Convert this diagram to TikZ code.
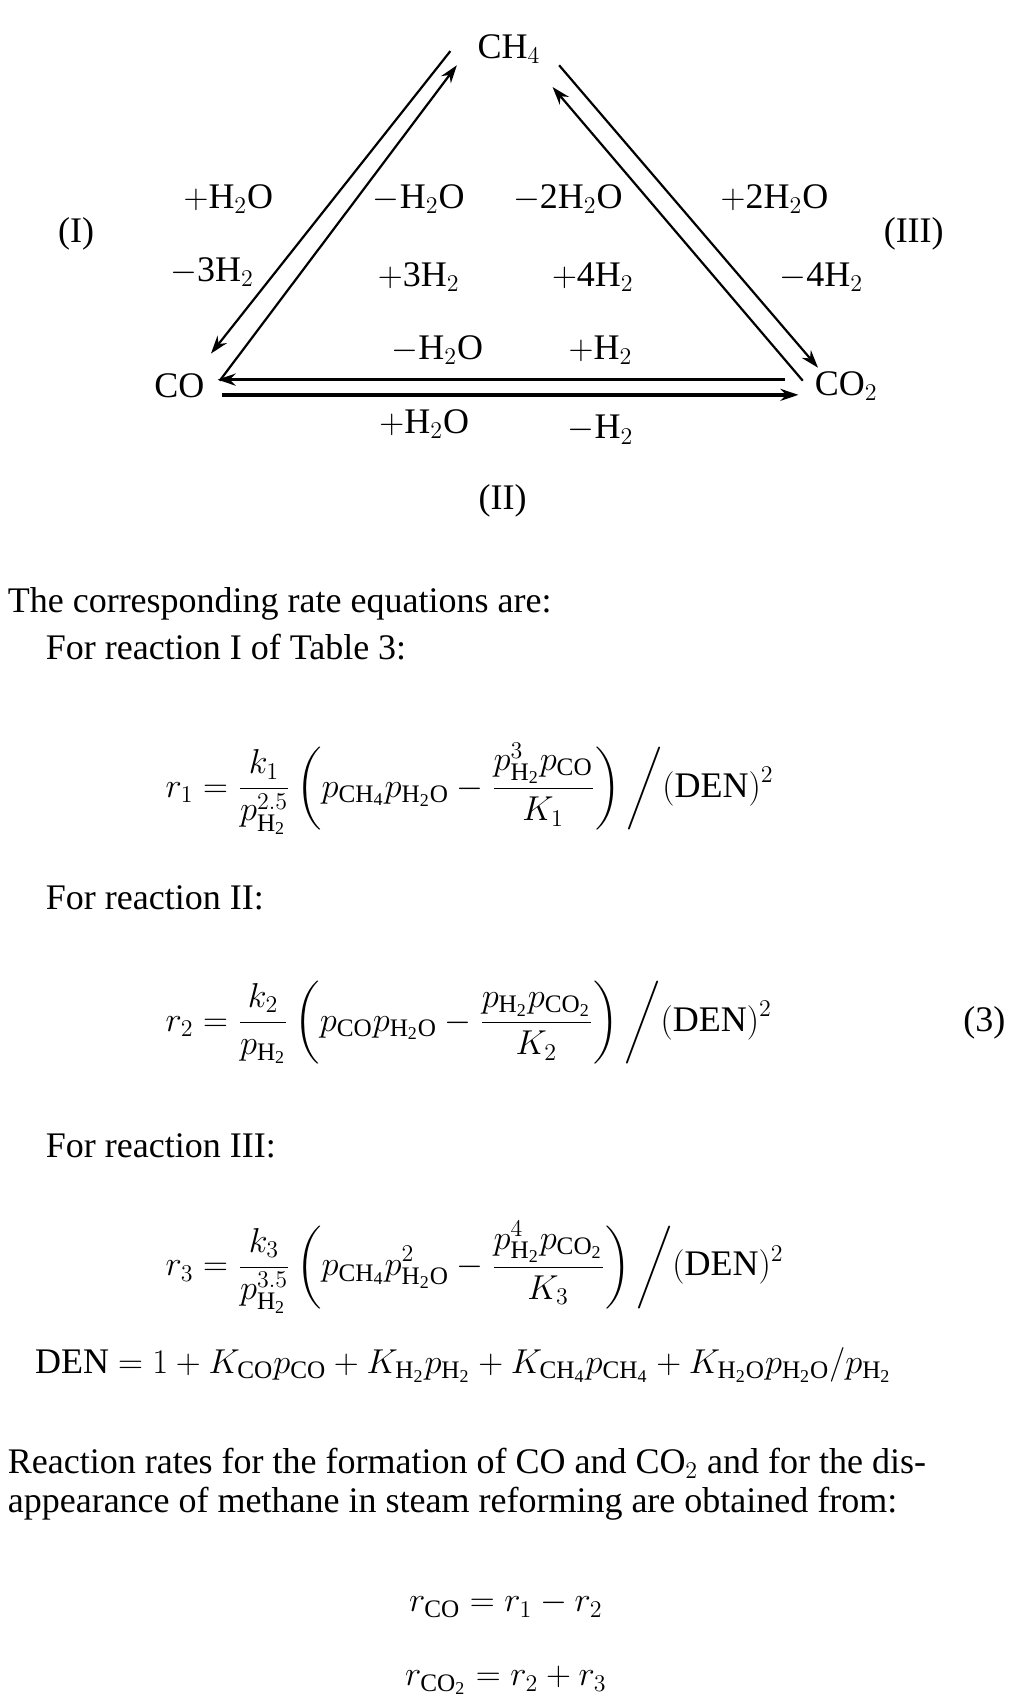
\documentclass[tikz,border=0pt]{standalone}
\usepackage{amsmath}
\usepackage{fontspec}
\setmainfont{Liberation Serif}
\usetikzlibrary{arrows.meta,calc}
\begin{document}
\begin{tikzpicture}[x=0.544pt,y=-0.544pt,
  every node/.style={font=\fontsize{18}{22}\selectfont,inner sep=1pt},
  txt/.style={anchor=west},
  arr/.style={line width=1.1pt,-{Stealth[length=9pt,width=6pt]}}]
\useasboundingbox (0,0) rectangle (945,1561);
\node (ch4) at (468,45) {CH$_4$};
\node (co) at (165,355) {CO};
\node (co2) at (778,355) {CO$_2$};
% left pair
\coordinate (l1a) at (414,47); \coordinate (l1b) at (194,325);
\coordinate (l2a) at (202,350); \coordinate (l2b) at (420,60);
\draw[arr] (l1a) -- (l1b);
\draw[arr] (l2a) -- (l2b);
% right pair
\coordinate (r1a) at (738,350); \coordinate (r1b) at (508,80);
\coordinate (r2a) at (514,60); \coordinate (r2b) at (752,338);
\draw[arr] (r1a) -- (r1b);
\draw[arr] (r2a) -- (r2b);
% bottom pair
\coordinate (b1a) at (722,349); \coordinate (b1b) at (200,349);
\coordinate (b2a) at (204,363); \coordinate (b2b) at (734,363);
\draw[arr,line width=1.8pt] (b1a) -- (b1b);
\draw[arr,line width=1.8pt] (b2a) -- (b2b);
\node (t1) at (210,183) {$+$H$_2$O};
\node (t2) at (70,215) {(I)};
\node (t3) at (195,250) {$-$3H$_2$};
\node (t4) at (385,183) {$-$H$_2$O};
\node (t5) at (385,255) {$+$3H$_2$};
\node (t6) at (522,183) {$-$2H$_2$O};
\node (t7) at (545,255) {$+$4H$_2$};
\node (t8) at (712,183) {$+$2H$_2$O};
\node (t9) at (840,215) {(III)};
\node (t10) at (755,255) {$-$4H$_2$};
\node (t11) at (402,322) {$-$H$_2$O};
\node (t12) at (552,322) {$+$H$_2$};
\node (t13) at (390,390) {$+$H$_2$O};
\node (t14) at (552,395) {$-$H$_2$};
\node (t15) at (462,460) {(II)};
\node[txt] (p1) at (5,555) {The corresponding rate equations are:};
\node[txt] (p2) at (40,595) {For reaction I of Table 3:};
\node[txt] (e1) at (150,725) {$\displaystyle r_1=\frac{k_1}{p_{\mathrm{H_2}}^{2.5}}\left(p_{\mathrm{CH_4}}p_{\mathrm{H_2O}}-\frac{p_{\mathrm{H_2}}^3p_{\mathrm{CO}}}{K_1}\right)\bigg/(\mathrm{DEN})^2$};
\node[txt] (p3) at (40,825) {For reaction II:};
\node[txt] (e2) at (150,940) {$\displaystyle r_2=\frac{k_2}{p_{\mathrm{H_2}}}\left(p_{\mathrm{CO}}p_{\mathrm{H_2O}}-\frac{p_{\mathrm{H_2}}p_{\mathrm{CO_2}}}{K_2}\right)\bigg/(\mathrm{DEN})^2$};
\node (eq3) at (905,940) {(3)};
\node[txt] (p4) at (40,1053) {For reaction III:};
\node[txt] (e3) at (150,1165) {$\displaystyle r_3=\frac{k_3}{p_{\mathrm{H_2}}^{3.5}}\left(p_{\mathrm{CH_4}}p^2_{\mathrm{H_2O}}-\frac{p_{\mathrm{H_2}}^4p_{\mathrm{CO_2}}}{K_3}\right)\bigg/(\mathrm{DEN})^2$};
\node[txt] (e4) at (30,1255) {DEN $=1+K_{\mathrm{CO}}p_{\mathrm{CO}}+K_{\mathrm{H_2}}p_{\mathrm{H_2}}+K_{\mathrm{CH_4}}p_{\mathrm{CH_4}}+K_{\mathrm{H_2O}}p_{\mathrm{H_2O}}/p_{\mathrm{H_2}}$};
\node[txt] (p5) at (5,1345) {Reaction rates for the formation of CO and CO$_2$ and for the dis-};
\node[txt] (p6) at (5,1382) {appearance of methane in steam reforming are obtained from:};
\node (e5) at (465,1475) {$r_{\mathrm{CO}}=r_1-r_2$};
\node (e6) at (465,1545) {$r_{\mathrm{CO_2}}=r_2+r_3$};
\end{tikzpicture}
\end{document}
